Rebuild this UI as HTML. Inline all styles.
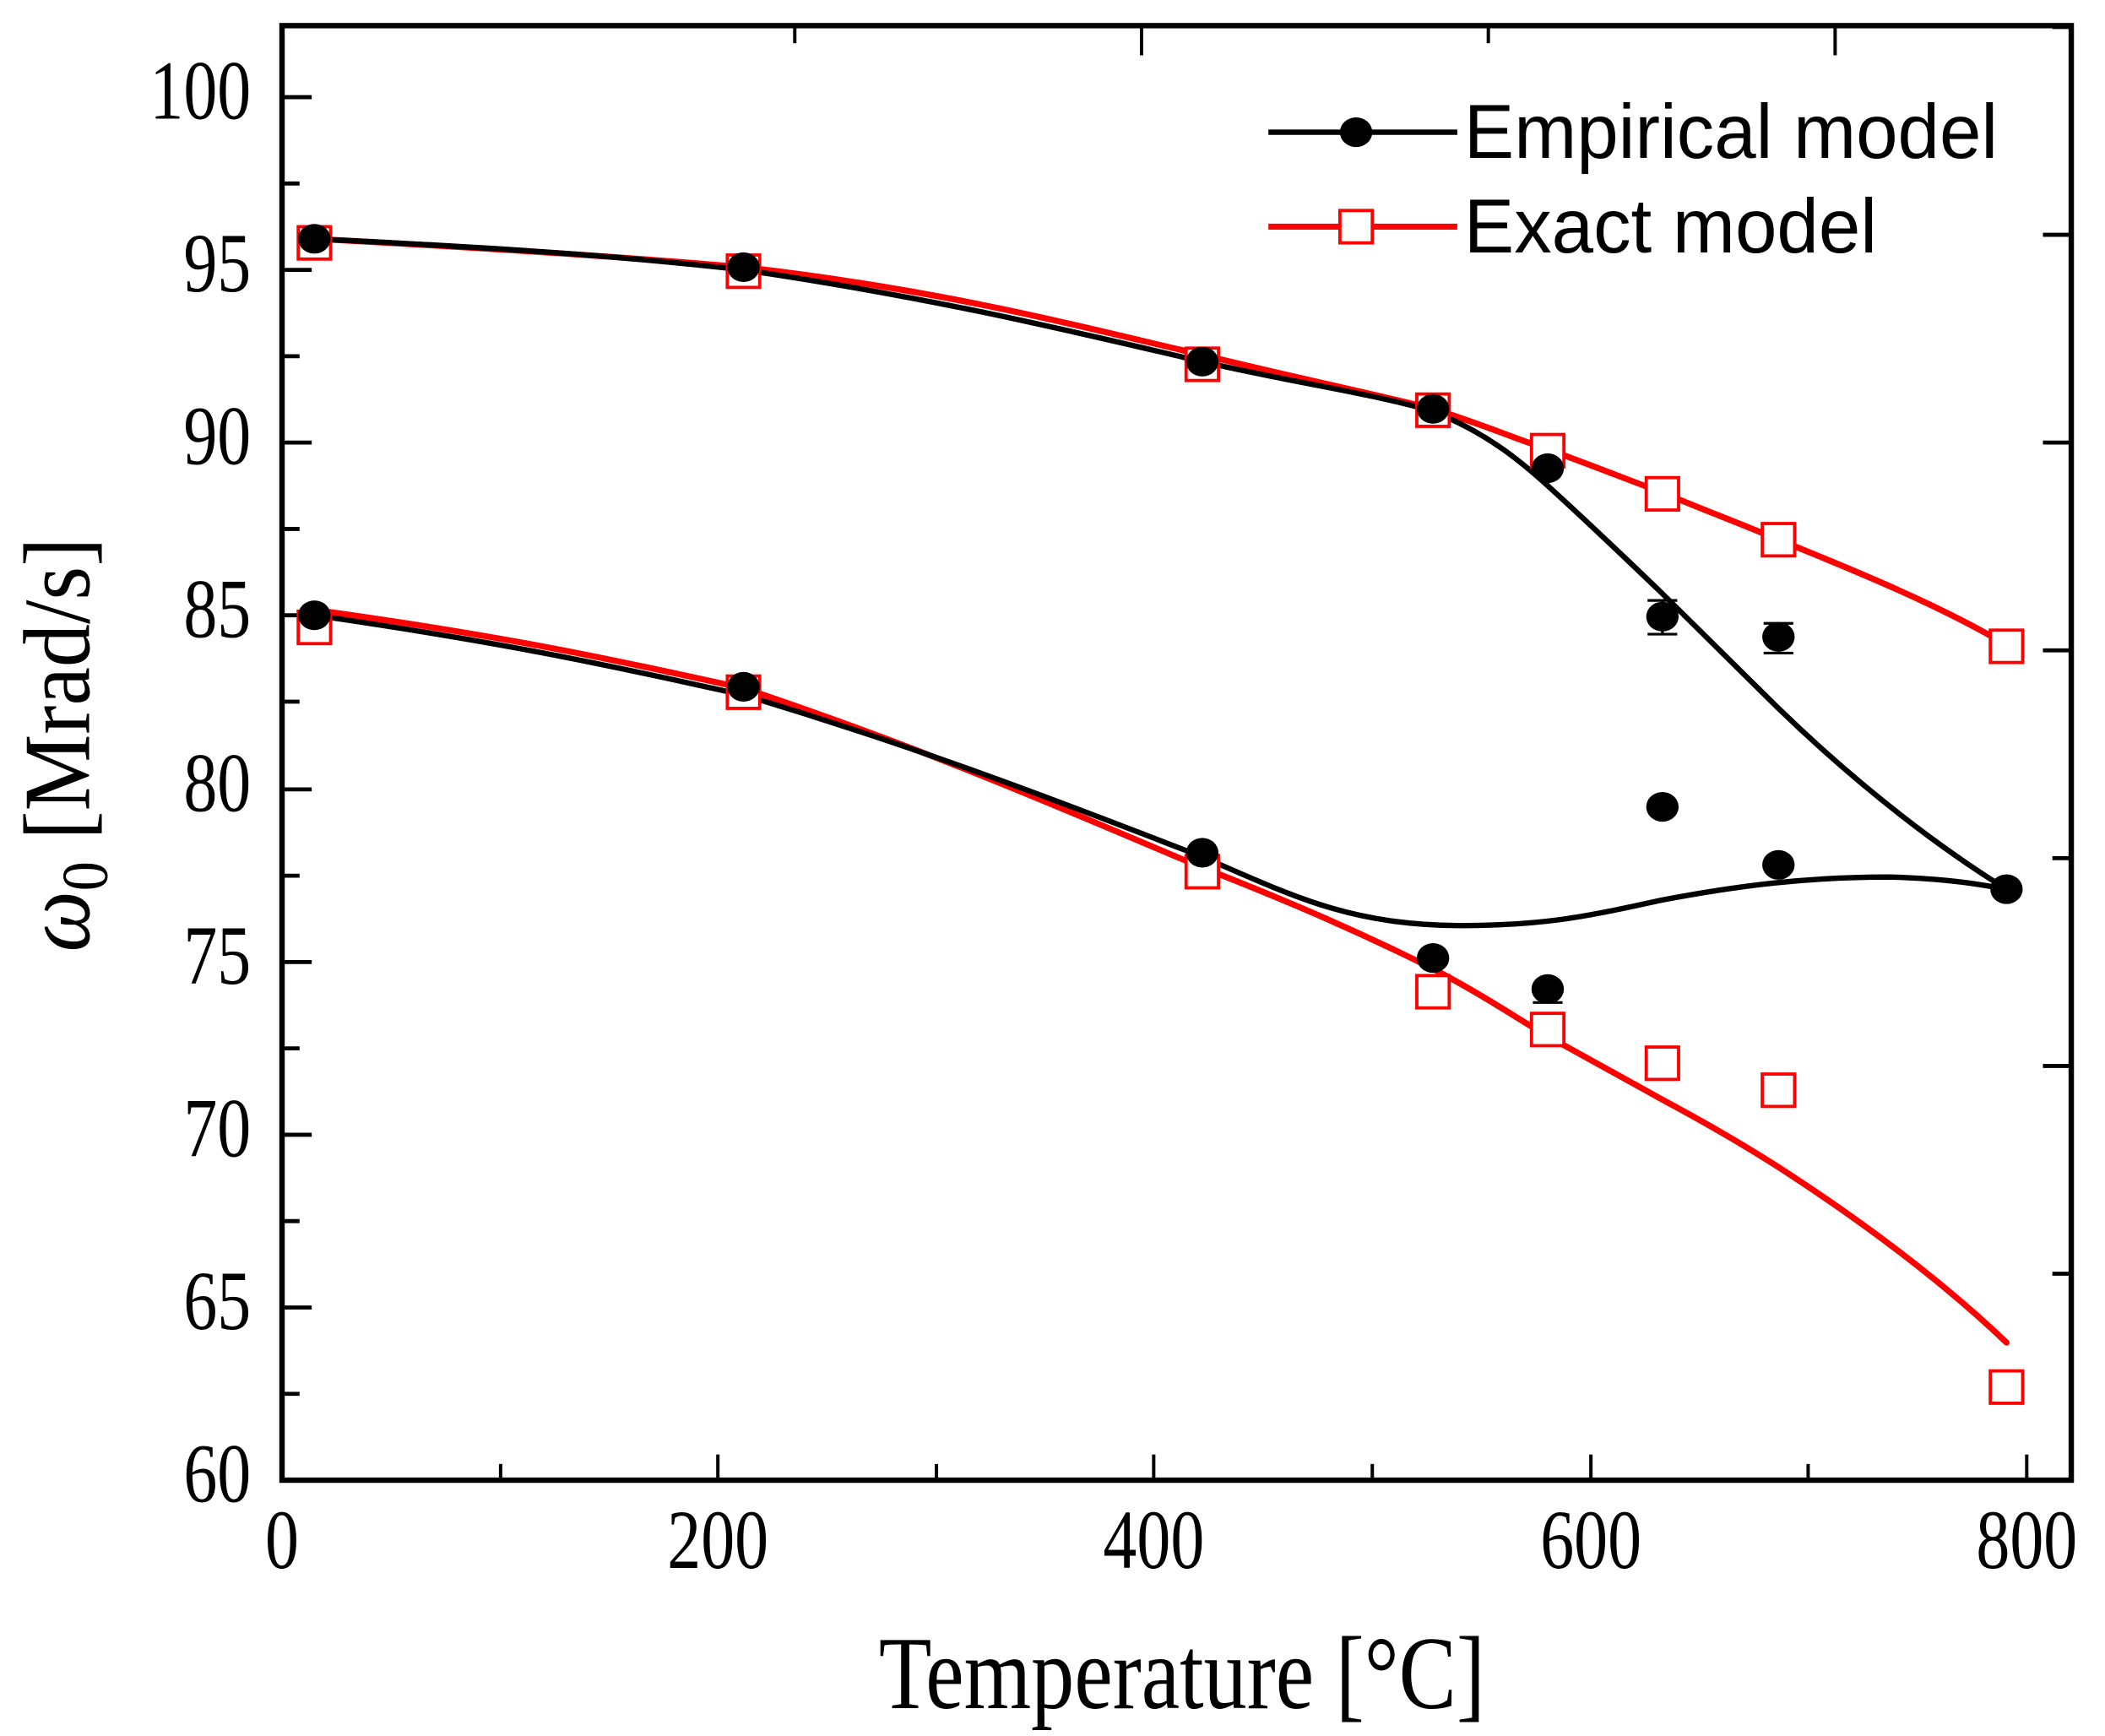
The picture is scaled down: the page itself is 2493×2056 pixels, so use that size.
<!DOCTYPE html>
<html><head><meta charset="utf-8"><style>html,body{margin:0;padding:0;background:#fff}svg{display:block}</style></head>
<body>
<svg width="2493" height="2056" viewBox="0 0 1560 1286.6" preserveAspectRatio="none" xmlns="http://www.w3.org/2000/svg">
<rect width="1560" height="1287" fill="#fff"/>
<rect x="209" y="19" width="1326" height="1078" fill="none" stroke="#000" stroke-width="4"/>
<g stroke="#000" stroke-width="2.5">
<line x1="209" y1="1097" x2="209" y2="1078"/>
<line x1="371" y1="1097" x2="371" y2="1085"/>
<line x1="532" y1="1097" x2="532" y2="1078"/>
<line x1="694" y1="1097" x2="694" y2="1085"/>
<line x1="855" y1="1097" x2="855" y2="1078"/>
<line x1="1017" y1="1097" x2="1017" y2="1085"/>
<line x1="1179" y1="1097" x2="1179" y2="1078"/>
<line x1="1340" y1="1097" x2="1340" y2="1085"/>
<line x1="1502" y1="1097" x2="1502" y2="1078"/>
<line x1="589" y1="19" x2="589" y2="32"/>
<line x1="846" y1="19" x2="846" y2="41"/>
<line x1="1103" y1="19" x2="1103" y2="32"/>
<line x1="1360" y1="19" x2="1360" y2="41"/>
</g>
<g stroke="#000" stroke-width="3">
<line x1="209" y1="72" x2="231" y2="72"/><line x1="209" y1="136" x2="222" y2="136"/>
<line x1="209" y1="200" x2="231" y2="200"/><line x1="209" y1="264" x2="222" y2="264"/>
<line x1="209" y1="328" x2="231" y2="328"/><line x1="209" y1="392" x2="222" y2="392"/>
<line x1="209" y1="456" x2="231" y2="456"/><line x1="209" y1="520" x2="222" y2="520"/>
<line x1="209" y1="585" x2="231" y2="585"/><line x1="209" y1="649" x2="222" y2="649"/>
<line x1="209" y1="713" x2="231" y2="713"/><line x1="209" y1="777" x2="222" y2="777"/>
<line x1="209" y1="841" x2="231" y2="841"/><line x1="209" y1="905" x2="222" y2="905"/>
<line x1="209" y1="969" x2="231" y2="969"/><line x1="209" y1="1033" x2="222" y2="1033"/>
<line x1="1535" y1="20" x2="1521" y2="20"/>
<line x1="1535" y1="174" x2="1514" y2="174"/>
<line x1="1535" y1="328" x2="1514" y2="328"/>
<line x1="1535" y1="482" x2="1514" y2="482"/>
<line x1="1535" y1="636" x2="1521" y2="636"/>
<line x1="1535" y1="790" x2="1514" y2="790"/>
<line x1="1535" y1="944" x2="1521" y2="944"/>
</g>
<g font-family="Liberation Serif, serif" font-size="50" fill="#000" text-anchor="end">
<text transform="translate(186,88) scale(1,1.25)">100</text>
<text transform="translate(186,216) scale(1,1.25)">95</text>
<text transform="translate(186,344) scale(1,1.25)">90</text>
<text transform="translate(186,472) scale(1,1.25)">85</text>
<text transform="translate(186,601) scale(1,1.25)">80</text>
<text transform="translate(186,729) scale(1,1.25)">75</text>
<text transform="translate(186,857) scale(1,1.25)">70</text>
<text transform="translate(186,985) scale(1,1.25)">65</text>
<text transform="translate(186,1113) scale(1,1.25)">60</text>
</g>
<g font-family="Liberation Serif, serif" font-size="50" fill="#000" text-anchor="middle">
<text transform="translate(209,1162) scale(1,1.25)">0</text>
<text transform="translate(532,1162) scale(1,1.25)">200</text>
<text transform="translate(855,1162) scale(1,1.25)">400</text>
<text transform="translate(1179,1162) scale(1,1.25)">600</text>
<text transform="translate(1502,1162) scale(1,1.25)">800</text>
</g>
<text transform="translate(876,1266) scale(1,1.2)" font-family="Liberation Serif, serif" font-size="64" text-anchor="middle">Temperature [°C]</text>
<text transform="translate(66,552) rotate(-90) scale(1,1.1)" font-family="Liberation Serif, serif" font-size="64" text-anchor="middle"><tspan font-style="italic">ω</tspan><tspan font-size="44" dy="12">0</tspan><tspan dy="-12"> [Mrad/s]</tspan></text>
<g fill="none" stroke-linejoin="round" stroke-linecap="round">
<path d="M233,177 C400,186 480,192 551,198 C700,215 800,242 891,263 C960,280 1010,290 1062,303 C1100,315 1120,324 1147,333 C1180,345 1205,355 1232,365 C1260,377 1290,388 1318,400 C1380,425 1440,450 1487,478" stroke="#f00" stroke-width="4.5"/>
<path d="M233,452 C400,475 480,495 551,510 C700,560 800,605 891,643 C960,670 1010,692 1062,718 C1100,738 1120,752 1147,768 C1180,786 1205,800 1232,815 C1260,830 1290,847 1318,865 C1380,905 1440,950 1487,995" stroke="#f00" stroke-width="4.5"/>
<path d="M233,177 C400,185 480,192 551,200 C700,222 800,247 891,268 C960,284 1020,292 1062,305 C1100,320 1125,340 1147,360 C1180,390 1205,414 1232,440 C1260,468 1290,497 1318,525 C1380,585 1440,630 1487,659" stroke="#000" stroke-width="4"/>
<path d="M233,456 C400,480 480,500 551,515 C700,560 800,600 891,635 C960,665 1000,685 1080,686 C1150,686 1180,678 1232,667 C1290,656 1340,650 1400,650 C1440,651 1465,655 1487,659" stroke="#000" stroke-width="4"/>
</g>
<g fill="#fff" stroke="#f00" stroke-width="2.4">
<rect x="221" y="168" width="24" height="24"/><rect x="539" y="189" width="24" height="24"/>
<rect x="879" y="258" width="24" height="24"/><rect x="1050" y="292" width="24" height="24"/>
<rect x="1135" y="322" width="24" height="24"/><rect x="1220" y="354" width="24" height="24"/>
<rect x="1306" y="388" width="24" height="24"/><rect x="1475" y="467" width="24" height="24"/>
<rect x="221" y="453" width="24" height="24"/><rect x="539" y="501" width="24" height="24"/>
<rect x="879" y="634" width="24" height="24"/><rect x="1050" y="723" width="24" height="24"/>
<rect x="1135" y="751" width="24" height="24"/><rect x="1220" y="776" width="24" height="24"/>
<rect x="1306" y="796" width="24" height="24"/><rect x="1475" y="1016" width="24" height="24"/>
</g>
<g fill="#000">
<ellipse cx="233" cy="177" rx="12" ry="11"/><ellipse cx="551" cy="198" rx="12" ry="11"/>
<ellipse cx="891" cy="268" rx="12" ry="11"/><ellipse cx="1062" cy="303" rx="12" ry="11"/>
<ellipse cx="1147" cy="347" rx="12" ry="11"/><ellipse cx="1232" cy="457" rx="12" ry="11"/>
<ellipse cx="1318" cy="472" rx="12" ry="11"/><ellipse cx="1487" cy="659" rx="12" ry="11"/>
<ellipse cx="233" cy="456" rx="12" ry="11"/><ellipse cx="551" cy="509" rx="12" ry="11"/>
<ellipse cx="891" cy="632" rx="12" ry="11"/><ellipse cx="1062" cy="710" rx="12" ry="11"/>
<ellipse cx="1147" cy="733" rx="12" ry="11"/><ellipse cx="1232" cy="598" rx="12" ry="11"/>
<ellipse cx="1318" cy="641" rx="12" ry="11"/>
</g>
<g stroke="#000" stroke-width="2">
<line x1="1221" y1="445" x2="1243" y2="445"/><line x1="1221" y1="470" x2="1243" y2="470"/><line x1="1232" y1="445" x2="1232" y2="470"/>
<line x1="1307" y1="462" x2="1329" y2="462"/><line x1="1307" y1="484" x2="1329" y2="484"/>
<line x1="1136" y1="743" x2="1158" y2="743"/>
</g>
<line x1="940" y1="98" x2="1080" y2="98" stroke="#000" stroke-width="4"/>
<ellipse cx="1005" cy="98" rx="12" ry="11" fill="#000"/>
<line x1="940" y1="168" x2="1080" y2="168" stroke="#f00" stroke-width="4.5"/>
<rect x="993" y="156" width="24" height="24" fill="#fff" stroke="#f00" stroke-width="2.4"/>
<g font-family="Liberation Sans, sans-serif" font-size="54" fill="#000">
<text transform="translate(1085,117) scale(1.03,1.05)">Empirical model</text>
<text transform="translate(1085,187) scale(1.03,1.05)">Exact model</text>
</g>
</svg>
</body></html>
